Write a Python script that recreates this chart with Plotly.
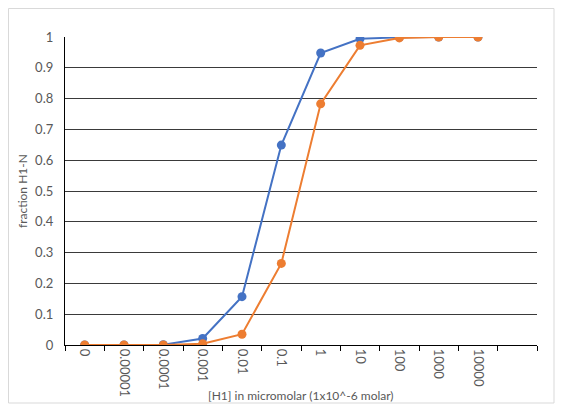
import plotly.graph_objects as go

categories = ["0", "0.00001", "0.0001", "0.001", "0.01", "0.1", "1", "10", "100", "1000", "10000"]
blue_values = [0.0, 0.0, 0.001, 0.021, 0.157, 0.649, 0.948, 0.994, 0.999, 1.0, 1.0]
orange_values = [0.0, 0.0, 0.0, 0.004, 0.035, 0.265, 0.783, 0.973, 0.997, 1.0, 1.0]
y_ticks = [0, 0.1, 0.2, 0.3, 0.4, 0.5, 0.6, 0.7, 0.8, 0.9, 1]
x_title = "[H1] in micromolar (1x10^-6 molar)"
y_title = "fraction H1-N"

all_cats = categories + ["\u2009"]

# page body has an 8px margin, so the figure is drawn at (8, 8)
OFF = 8
W, H = 556, 405
ml, mr, mt, mb = 57, 27, 29, 68
pw = W - ml - mr
ph = H - mt - mb

fig = go.Figure()
fig.add_trace(go.Scatter(
    x=categories, y=blue_values, mode="lines+markers",
    line=dict(color="#4472C4", width=2),
    marker=dict(color="#4472C4", size=9),
    showlegend=False,
))
fig.add_trace(go.Scatter(
    x=categories, y=orange_values, mode="lines+markers",
    line=dict(color="#ED7D31", width=2),
    marker=dict(color="#ED7D31", size=9),
    showlegend=False,
))

font_family = "Lato"
fig.update_layout(
    width=W, height=H,
    margin=dict(l=ml, r=mr, t=mt, b=mb, autoexpand=False),
    paper_bgcolor="white", plot_bgcolor="white",
    font=dict(family=font_family, size=13, color="#595959"),
    xaxis=dict(
        type="category", categoryorder="array", categoryarray=all_cats,
        range=[-0.5, len(all_cats) - 0.5],
        tickson="boundaries", ticks="outside", ticklen=5, tickcolor="#000000", tickwidth=1,
        tickangle=90, showgrid=False, showline=True, linecolor="#000000", linewidth=1.3,
        tickfont=dict(family=font_family, size=13, color="#595959"),
        zeroline=False, automargin=False,
    ),
    yaxis=dict(
        range=[0, 1], tickvals=y_ticks, showgrid=True, gridcolor="#3a3a3a", gridwidth=1,
        showline=True, linecolor="#000000", linewidth=1.3, ticks="", zeroline=False,
        ticklabelstandoff=8, automargin=False,
        tickfont=dict(family=font_family, size=13, color="#595959"),
    ),
)

# axis titles placed as annotations (screen coords from reference minus OFF)
fig.add_annotation(
    text=x_title, xref="paper", yref="paper", x=0.5, y=-((395 - OFF) - (H - mb)) / ph,
    showarrow=False, font=dict(family=font_family, size=12, color="#595959"),
    xanchor="center", yanchor="middle",
)
fig.add_annotation(
    text=y_title, xref="paper", yref="paper", x=((22 - OFF) - ml) / pw, y=0.5,
    showarrow=False, textangle=-90, font=dict(family=font_family, size=12, color="#595959"),
    xanchor="center", yanchor="middle",
)
# chart border
fig.add_shape(
    type="rect", xref="paper", yref="paper",
    x0=((8 - OFF) + 0.5 - ml) / pw, x1=((554 - OFF) - ml) / pw,
    y0=-((403 - OFF) - (H - mb)) / ph, y1=((H - mb) - (8 - OFF) - 0.5) / ph,
    line=dict(color="#d9d9d9", width=1), fillcolor="rgba(0,0,0,0)", layer="below",
)

fig.write_html("out.html")
